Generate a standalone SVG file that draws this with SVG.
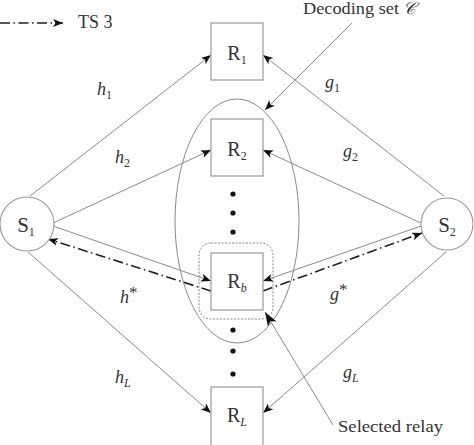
<svg xmlns="http://www.w3.org/2000/svg" width="474" height="445" viewBox="0 0 474 445">
<style>
.ln{stroke:#8a8a8a;stroke-width:1;fill:none}
.dd{stroke:#222;stroke-width:1.6;fill:none;stroke-dasharray:10 3.5 1.5 3.5}
.box{fill:#fff;stroke:#999;stroke-width:1.2}
.circ{fill:#fff;stroke:#999;stroke-width:1.1}
text{fill:#333;font-family:"Liberation Serif","DejaVu Serif",serif}
.m{font-style:italic;font-size:18px}
.nl{font-size:20px}
.sl{font-size:21px}
.sub{font-size:12px}
.ast{font-size:17px;font-style:normal}
</style>
<defs>
<marker id="ah" markerUnits="userSpaceOnUse" markerWidth="11" markerHeight="9" refX="10" refY="4" orient="auto">
<path d="M0,0 L10,4 L0,8 L2.5,4 z" fill="#111"/>
</marker>
<marker id="ahb" markerUnits="userSpaceOnUse" markerWidth="15" markerHeight="11" refX="14" refY="5" orient="auto">
<path d="M0,0 L14,5 L0,10 L3.5,5 z" fill="#111"/>
</marker>
</defs>
<rect width="474" height="445" fill="#fff"/>

<g id="decoding-set">
<ellipse cx="237" cy="221" rx="62" ry="122" fill="none" stroke="#8a8a8a" stroke-width="1"/>
</g>

<g id="connectors">
<line class="ln" x1="30" y1="196" x2="211" y2="55" marker-end="url(#ah)"/>
<line class="ln" x1="53" y1="223" x2="211" y2="150" marker-end="url(#ah)"/>
<line class="ln" x1="53" y1="226" x2="211" y2="281" marker-end="url(#ah)"/>
<line class="ln" x1="28" y1="252" x2="211" y2="413" marker-end="url(#ah)"/>
<line class="ln" x1="444" y1="196" x2="263" y2="55" marker-end="url(#ah)"/>
<line class="ln" x1="421" y1="223" x2="263" y2="150" marker-end="url(#ah)"/>
<line class="ln" x1="421" y1="226" x2="263" y2="281" marker-end="url(#ah)"/>
<line class="ln" x1="446" y1="252" x2="263" y2="413" marker-end="url(#ah)"/>
<line class="dd" x1="211" y1="291" x2="48" y2="239" marker-end="url(#ah)"/>
<line class="dd" x1="263" y1="291" x2="422" y2="233" marker-end="url(#ah)"/>
<line class="ln" x1="352" y1="23" x2="265" y2="110" marker-end="url(#ah)"/>
<line class="ln" x1="333" y1="425" x2="265" y2="312" marker-end="url(#ahb)"/>
<line class="dd" x1="0" y1="23" x2="63" y2="23" marker-end="url(#ah)"/>
</g>

<g id="S1">
<circle class="circ" cx="27" cy="224" r="27"/>
<text class="sl" x="26" y="232" text-anchor="middle">S<tspan class="sub" font-size="13" dy="4">1</tspan></text>
</g>
<g id="S2">
<circle class="circ" cx="447" cy="224" r="26"/>
<text class="sl" x="447" y="232" text-anchor="middle">S<tspan class="sub" font-size="13" dy="4">2</tspan></text>
</g>
<g id="R1">
<rect class="box" x="211" y="23" width="52" height="57"/>
<text class="nl" x="237" y="60" text-anchor="middle">R<tspan class="sub" dy="4">1</tspan></text>
</g>
<g id="R2">
<rect class="box" x="211" y="119" width="52" height="57"/>
<text class="nl" x="237" y="156" text-anchor="middle">R<tspan class="sub" dy="4">2</tspan></text>
</g>
<g id="Rb">
<rect x="199" y="243" width="74" height="76" rx="12" fill="none" stroke="#777" stroke-width="0.9" stroke-dasharray="2 1.5"/>
<rect class="box" x="211" y="253" width="52" height="57"/>
<text class="nl" x="237" y="288" text-anchor="middle">R<tspan class="sub" font-style="italic" dy="4">b</tspan></text>
</g>
<g id="RL">
<rect class="box" x="211" y="387" width="52" height="62"/>
<text class="nl" x="237" y="422" text-anchor="middle">R<tspan class="sub" font-style="italic" dy="4">L</tspan></text>
</g>
<g id="dots" fill="#111">
<circle cx="233" cy="194" r="2.6"/>
<circle cx="233" cy="213" r="2.6"/>
<circle cx="233" cy="232" r="2.6"/>
<circle cx="233" cy="330" r="2.6"/>
<circle cx="233" cy="351" r="2.6"/>
<circle cx="233" cy="374" r="2.6"/>
</g>

<g id="labels">
<text class="m" x="97" y="95">h<tspan class="sub" font-style="normal" dy="4">1</tspan></text>
<text class="m" x="115" y="163">h<tspan class="sub" font-style="normal" dy="4">2</tspan></text>
<text class="m" x="120" y="303">h<tspan class="ast" dy="-5">*</tspan></text>
<text class="m" x="115" y="383">h<tspan class="sub" dy="4">L</tspan></text>
<text class="m" x="325" y="88">g<tspan class="sub" font-style="normal" dy="4">1</tspan></text>
<text class="m" x="343" y="157">g<tspan class="sub" font-style="normal" dy="4">2</tspan></text>
<text class="m" x="330" y="300">g<tspan class="ast" dy="-5">*</tspan></text>
<text class="m" x="343" y="378">g<tspan class="sub" dy="4">L</tspan></text>
<text x="303" y="14" font-size="17" textLength="96" lengthAdjust="spacingAndGlyphs">Decoding set</text>
<text x="403" y="14" font-size="17" font-style="italic">𝒞</text>
<text x="338" y="432" font-size="17" textLength="105" lengthAdjust="spacingAndGlyphs">Selected relay</text>
<text x="78" y="28" font-size="18">TS 3</text>
</g>
</svg>
